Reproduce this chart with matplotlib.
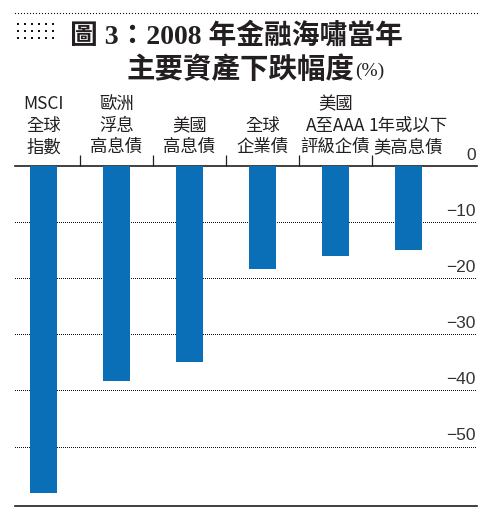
import matplotlib
matplotlib.use('Agg')
import matplotlib.pyplot as plt
from matplotlib.lines import Line2D
import numpy as np

# data
categories = ['MSCI\n全球\n指數', '歐洲\n浮息\n高息債', '美國\n高息債',
              '全球\n企業債', '美國\nA至AAA\n評級企債', '1年或以下\n美高息債']
drops = [-58.3, -38.4, -34.9, -18.4, -16.0, -14.9]
grid_vals = [0, -10, -20, -30, -40, -50]
grid_labels = ['0', '−10', '−20', '−30', '−40', '−50']

bar_color = '#0b6fb8'
ink = '#231f20'
cjk = ['Noto Sans CJK TC', 'DejaVu Sans']
title_font = ['Liberation Serif', 'Noto Sans CJK TC']
dots = (0, (0.72, 1.44))  # ~1px on, 2px off at lw=1

W, H = 494, 522
fig = plt.figure(figsize=(W / 100, H / 100), dpi=100)
ax = fig.add_axes([15 / W, 1 - 506 / H, 462 / W, 340 / H])

x = np.arange(len(categories))
ax.bar(x, drops, width=0.36, color=bar_color, zorder=3)

ax.set_xlim(-0.39, 5.94)
ax.set_ylim(-60.6, 0)

# dotted gridlines
for v in grid_vals[1:]:
    ax.axhline(v, color='#111111', lw=1.0, ls=dots, antialiased=False, zorder=1)

# y labels sitting right above the lines
for v, lbl in zip(grid_vals, grid_labels):
    ax.annotate(lbl, xy=(1, v), xycoords=('axes fraction', 'data'),
                xytext=(-1, 2.5), textcoords='offset points',
                ha='right', va='bottom', fontsize=12.5, color='#333333',
                family=['Liberation Sans', 'DejaVu Sans'])

ax.set_yticks([])
for s in ['left', 'right']:
    ax.spines[s].set_visible(False)
ax.spines['top'].set_color(ink)
ax.spines['bottom'].set_color(ink)
ax.spines['top'].set_linewidth(1.2)
ax.spines['bottom'].set_linewidth(1.2)

# category labels on top, separator ticks between them
ax.set_xticks(x)
ax.set_xticklabels(categories, fontsize=12.5, color=ink, family=cjk)
ax.set_xticks(x[:-1] + 0.5, minor=True)
ax.tick_params(axis='x', which='major', bottom=False, top=False,
               labelbottom=False, labeltop=True, length=0, pad=7)
ax.tick_params(axis='x', which='minor', bottom=False, top=True,
               length=8, width=0.9, color=ink, direction='out')
for t in ax.get_xticklabels():
    t.set_linespacing(1.25)
    t.set_multialignment('center')

# header: dotted rule, dot block, title
rule_x = np.arange(15, 479, 3)
fig.add_artist(Line2D(rule_x / W, np.full(len(rule_x), 1 - 13 / H),
                      transform=fig.transFigure, ls='none', marker='s',
                      ms=0.8, mew=0, color='#111111'))
dx = [18, 25, 32, 39, 46, 53]
dy = [24, 31, 38]
for yy in dy:
    fig.add_artist(Line2D([v / W for v in dx], [1 - yy / H] * len(dx),
                          transform=fig.transFigure, ls='none', marker='s',
                          ms=1.7, mew=0, color='#111111'))

fig.text(70 / W, 1 - 37 / H, '圖 3：2008 年金融海嘯當年', fontsize=20,
         fontweight='bold', color=ink, va='center', ha='left', family=title_font)
fig.text(127 / W, 1 - 70 / H, '主要資產下跌幅度', fontsize=20.5,
         fontweight='bold', color=ink, va='center', ha='left', family=title_font)
fig.text(355 / W, 1 - 71 / H, '(%)', fontsize=14,
         color=ink, va='center', ha='left', family=title_font)

fig.savefig('out.png', dpi=100)
